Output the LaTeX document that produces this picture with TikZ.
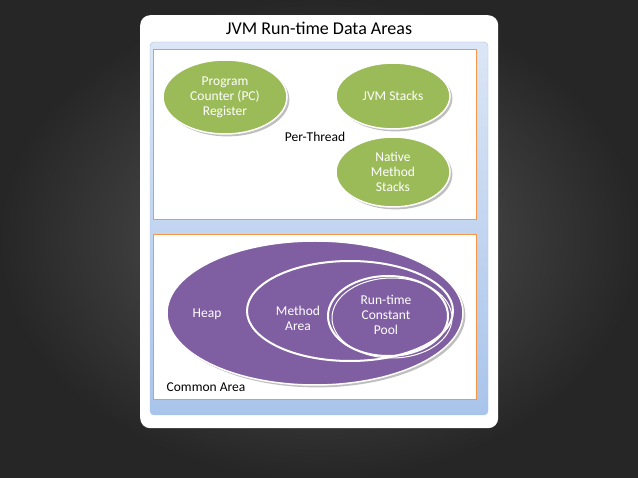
\documentclass[tikz,border=0pt]{standalone}
\usepackage{fontspec}
\setmainfont{Carlito}
\usetikzlibrary{shadows,shapes.geometric}
\definecolor{grn}{HTML}{9BBB59}
\definecolor{prp}{HTML}{7F5FA1}
\definecolor{org}{HTML}{F79646}
\definecolor{bltop}{HTML}{DCE6F5}
\definecolor{blbot}{HTML}{A9C4EB}
\begin{document}
\begin{tikzpicture}[x=1pt,y=-1pt,
  gell/.style={ellipse,fill=grn,draw=white,line width=1.5pt,drop shadow,text=white,align=center,font=\fontsize{13.5}{15}\selectfont,inner sep=0pt},
  obox/.style={draw=org,fill=white,line width=1pt},
  lbl/.style={font=\fontsize{13.5}{15}\selectfont,text=white,align=center}]
\useasboundingbox (0,0) rectangle (638,478);
\shade[inner color=black!65,outer color=black!85] (0,0) rectangle (638,478);
\node[draw=none,fill=white,rounded corners=10pt,minimum width=358pt,minimum height=413pt,anchor=north west] (card) at (140,15) {};
\node[font=\fontsize{18}{20}\selectfont] (title) at (319,28) {JVM Run-time Data Areas};
\shade[top color=bltop,bottom color=blbot,draw=blbot,rounded corners=4pt] (150,42) rectangle (488,415);
\draw[obox] (153,50) rectangle (476,220);
\draw[obox] (153,235) rectangle (476,400);
\node[gell,minimum width=124pt,minimum height=74pt] (pc) at (225,97) {Program\\Counter (PC)\\Register};
\node[gell,minimum width=114pt,minimum height=66pt] (jvm) at (393,96) {JVM Stacks};
\node[gell,minimum width=114pt,minimum height=70pt] (nat) at (393,172) {Native\\Method\\Stacks};
\node[font=\fontsize{13.5}{15}\selectfont] (pt) at (315,137) {Per-Thread};
\fill[prp,draw=white,line width=1.5pt,drop shadow] (315,313) ellipse (148 and 72);
\draw[white,line width=2pt] (350,311) ellipse (103 and 50);
\draw[white,line width=2pt] (388,316) ellipse (60 and 40);
\draw[white,line width=1pt] (392,318) ellipse (60 and 40);
\node[lbl] (heap) at (207,314) {Heap};
\node[lbl] (ma) at (298,318) {Method\\Area};
\node[lbl] (rcp) at (386,315) {Run-time\\Constant\\Pool};
\node[font=\fontsize{13.5}{15}\selectfont] (ca) at (206,387) {Common Area};
\end{tikzpicture}
\end{document}
